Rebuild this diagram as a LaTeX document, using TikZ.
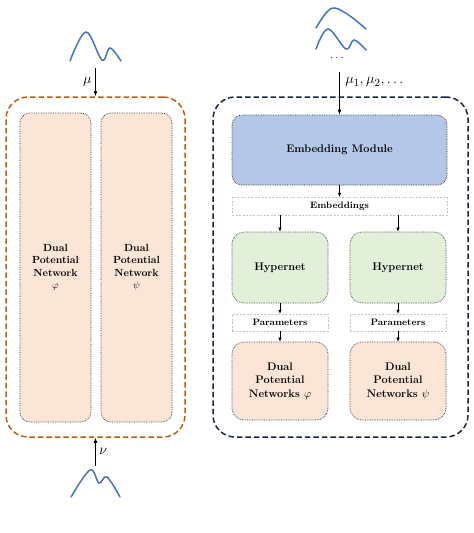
\documentclass[tikz,border=0pt]{standalone}
\usepackage{amsmath}
\usepackage{xcolor}
\usetikzlibrary{arrows.meta}

\definecolor{peach}{HTML}{FBE5D6}
\definecolor{embblue}{HTML}{B4C7E7}
\definecolor{hypgreen}{HTML}{E2F0D9}
\definecolor{dashorange}{HTML}{C55A11}
\definecolor{dashnavy}{HTML}{1A2440}
\definecolor{curveblue}{HTML}{4472C4}

\begin{document}
\begin{tikzpicture}[x=1pt,y=-1pt,
	outerbox/.style={
		draw, rounded corners=22pt, line width=1.5pt,
		dash pattern=on 5.5pt off 3pt, inner sep=0pt
	}]
	\useasboundingbox (0,0) rectangle (474,533);
	\tikzstyle{netbox} = [draw=gray!40!black,densely dotted,line width=0.7pt,rounded corners=10pt,align=center,inner sep=0pt]
	\tikzstyle{tagbox} = [draw=gray!45,dash pattern=on 2pt off 1.5pt,line width=0.5pt,align=center,inner sep=0pt,font=\bfseries\fontsize{9.3}{11}\selectfont]
	\tikzstyle{edge} = [-{Latex[length=4pt,width=3.5pt]},line width=0.6pt]
	\tikzstyle{bigedge} = [-{Latex[length=5pt,width=4pt]},line width=0.9pt]
	\tikzstyle{density} = [curveblue,line width=1.5pt,line cap=round]

	% left: two dual potential networks
	\node[outerbox,draw=dashorange,minimum width=179pt,minimum height=340pt] (lout) at (95.5,267) {};
	\node[netbox,fill=peach,minimum width=71pt,minimum height=309pt,font=\bfseries\fontsize{10.3}{12.5}\selectfont] (phi) at (55.5,267.5) {Dual\\Potential\\Network\\$\varphi$};
	\node[netbox,fill=peach,minimum width=71pt,minimum height=309pt,font=\bfseries\fontsize{10.3}{12.5}\selectfont] (psi) at (136.5,267.5) {Dual\\Potential\\Network\\$\psi$};

	\draw[density] plot[smooth,tension=0.6] coordinates {(70,61) (86,32) (102,60) (110,48) (121,61)};
	\coordinate (mutop) at (95.5,68);
	\draw (mutop) edge [bigedge] node[left,font=\fontsize{15}{17}\selectfont] {$\mu$} (lout);

	\draw[density] plot[smooth,tension=0.6] coordinates {(71,497) (90,470) (99,483) (107,477) (120,497)};
	\coordinate (nubot) at (95.5,466);
	\draw (nubot) edge [bigedge] node[right,font=\fontsize{15}{17}\selectfont] {$\nu$} (lout);

	% right: hypernetwork pipeline
	\node[outerbox,draw=dashnavy,minimum width=255pt,minimum height=340pt] (rout) at (340.5,267) {};
	\node[netbox,fill=embblue,minimum width=215pt,minimum height=70pt,font=\bfseries\fontsize{11}{13}\selectfont] (emb) at (339.5,150) {Embedding Module};
	\node[tagbox,minimum width=215pt,minimum height=18pt] (embs) at (339.5,206) {Embeddings};

	\node[netbox,fill=hypgreen,minimum width=96pt,minimum height=71pt,rounded corners=12pt,font=\bfseries\fontsize{11}{13}\selectfont] (hypa) at (280,267.5) {Hypernet};
	\node[netbox,fill=hypgreen,minimum width=96pt,minimum height=71pt,rounded corners=12pt,font=\bfseries\fontsize{11}{13}\selectfont] (hypb) at (398,267.5) {Hypernet};

	\node[tagbox,minimum width=96pt,minimum height=17pt] (para) at (280,322.5) {Parameters};
	\node[tagbox,minimum width=96pt,minimum height=17pt] (parb) at (398,322.5) {Parameters};

	\node[netbox,fill=peach,minimum width=96pt,minimum height=78pt,rounded corners=12pt,font=\bfseries\fontsize{11}{13.5}\selectfont] (dpna) at (280,381) {Dual\\Potential\\Networks $\varphi$};
	\node[netbox,fill=peach,minimum width=96pt,minimum height=78pt,rounded corners=12pt,font=\bfseries\fontsize{11}{13.5}\selectfont] (dpnb) at (398,381) {Dual\\Potential\\Networks $\psi$};

	\draw[density] plot[smooth,tension=0.6] coordinates {(316,28) (326,13) (335,8) (350,16) (366,29)};
	\draw[density] plot[smooth,tension=0.6] coordinates {(316,49) (328,29) (346,49) (354,40) (366,50)};
	\node[font=\fontsize{13}{15}\selectfont] (dots) at (338,58) {$\dots$};
	\coordinate (mustop) at (339.5,72);
	\draw (mustop) edge [bigedge] node[right,pos=0.24,xshift=2pt,font=\fontsize{15.5}{17}\selectfont] {$\mu_1, \mu_2, \dots$} (emb);

	\draw (emb) edge [edge] (embs);
	\draw (embs.south -| hypa) edge [edge] (hypa);
	\draw (embs.south -| hypb) edge [edge] (hypb);
	\draw (hypa) edge [edge] (para);
	\draw (hypb) edge [edge] (parb);
	\draw (para) edge [edge] (dpna);
	\draw (parb) edge [edge] (dpnb);
\end{tikzpicture}
\end{document}
